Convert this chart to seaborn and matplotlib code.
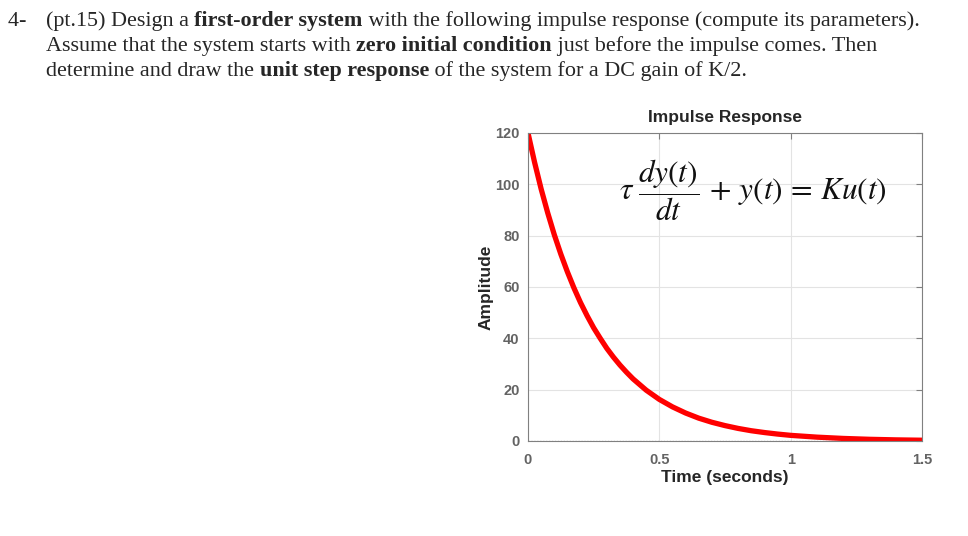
import numpy as np
import matplotlib
matplotlib.use('Agg')
import matplotlib.pyplot as plt
import seaborn as sns

# impulse response values
t = [0, 0.025, 0.05, 0.075, 0.1, 0.125, 0.15, 0.175, 0.2, 0.225, 0.25, 0.275,
     0.3, 0.325, 0.35, 0.375, 0.4, 0.45, 0.5, 0.55, 0.6, 0.65, 0.7, 0.75, 0.8,
     0.85, 0.9, 0.95, 1.0, 1.1, 1.2, 1.3, 1.4, 1.5]
amp = [120, 108.6, 98.2, 88.9, 80.4, 72.8, 65.9, 59.6, 53.9, 48.8, 44.1, 40.0,
       36.1, 32.7, 29.6, 26.8, 24.2, 19.8, 16.2, 13.3, 10.9, 8.9, 7.3, 6.0, 4.9,
       4.0, 3.3, 2.7, 2.2, 1.5, 1.0, 0.66, 0.44, 0.30]
xticks = [0, 0.5, 1, 1.5]
xticklabels = ['0', '0.5', '1', '1.5']
yticks = [0, 20, 40, 60, 80, 100, 120]

lines = [
    [('4-  ', False), ('(pt.15) Design a ', False), ('first-order system', True),
     (' with the following impulse response (compute its parameters).', False)],
    [('Assume that the system starts with ', False), ('zero initial condition', True),
     (' just before the impulse comes. Then', False)],
    [('determine and draw the ', False), ('unit step response', True),
     (' of the system for a DC gain of K/2.', False)],
]

W, H = 968, 536
sns.set_style('white')
plt.rcParams['font.family'] = ['Liberation Sans', 'DejaVu Sans']

fig = plt.figure(figsize=(W / 100, H / 100), dpi=100)
fig.patch.set_facecolor('white')
ax = fig.add_axes([528 / W, 1 - 441 / H, (922 - 528) / W, (441 - 133) / H])

sns.lineplot(x=t, y=amp, ax=ax, color='#ff0000', linewidth=3.8)
ax.axhline(0, color='black', linestyle=':', linewidth=0.8, zorder=1)

ax.set_xlim(0, 1.5)
ax.set_ylim(0, 120)
ax.set_xticks(xticks)
ax.set_xticklabels(xticklabels)
ax.set_yticks(yticks)
ax.grid(True, color='#e3e3e3', linewidth=0.8)
for s in ax.spines.values():
    s.set_color('#808080')
    s.set_linewidth(0.8)
ax.tick_params(direction='in', length=4, color='#808080', labelcolor='#636363',
               labelsize=10.5, top=True, right=True, pad=6)
ax.tick_params(axis='x', pad=9)
for lb in ax.get_xticklabels() + ax.get_yticklabels():
    lb.set_fontweight('bold')

ax.set_title('Impulse Response', fontsize=12.5, fontweight='bold', pad=8)
ax.set_xlabel('Time (seconds)', fontsize=12.5, fontweight='bold', labelpad=2)
ax.set_ylabel('Amplitude', fontsize=12.5, fontweight='bold', labelpad=1)

ax.text(0.572, 0.813, r'$\tau\;\dfrac{dy(t)}{dt}\,+\,y(t)\,=\,Ku(t)$', transform=ax.transAxes,
        ha='center', va='center', fontsize=22.5, math_fontfamily='stix', color='#111111')

# problem statement with bold parts
renderer = fig.canvas.get_renderer()
starts = [8, 46, 46]
baselines = [26, 51, 76]
for segs, x0, yb in zip(lines, starts, baselines):
    x = x0
    for txt, bold in segs:
        tt = fig.text(x / W, 1 - yb / H, txt, fontsize=15.9, va='baseline', ha='left',
                      family='Liberation Serif', fontweight='bold' if bold else 'normal')
        bb = tt.get_window_extent(renderer=renderer)
        x += bb.width
        if txt == '4-  ':
            x = 46

fig.savefig('out.png', dpi=100)
